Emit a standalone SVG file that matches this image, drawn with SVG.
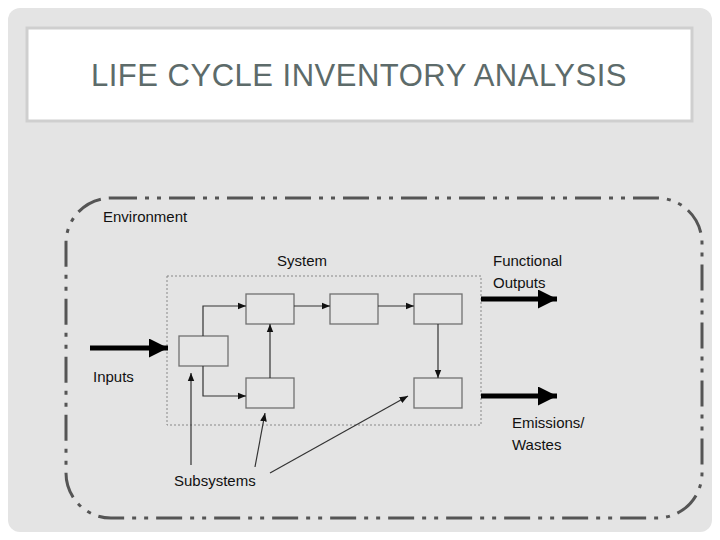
<svg xmlns="http://www.w3.org/2000/svg" width="720" height="540" viewBox="0 0 720 540">
<defs>
<marker id="a" viewBox="0 0 10 10" refX="10" refY="5" markerWidth="7" markerHeight="7" orient="auto"><path d="M0,1 L10,5 L0,9z" fill="#111"/></marker>
<marker id="b" viewBox="0 0 10 10" refX="10" refY="5" markerWidth="3.8" markerHeight="3.8" orient="auto"><path d="M0,0 L10,5 L0,10z" fill="#000"/></marker>
<style>
.bx{fill:#e5e5e5;stroke:#707070;stroke-width:1.3}
.ln{stroke:#333;stroke-width:1.2;fill:none;marker-end:url(#a)}
.t{font-family:"Liberation Sans",Arial,sans-serif;font-size:15px;fill:#111}
.big{stroke:#000;stroke-width:5;marker-end:url(#b)}
</style>
</defs>
<rect x="0" y="0" width="720" height="540" fill="#fff"/>
<rect x="8" y="8" width="704" height="524" rx="12" fill="#e4e4e4"/>
<rect x="27" y="28" width="665" height="93" fill="#fff" stroke="#cfcfcf" stroke-width="3"/>
<text x="359" y="86" text-anchor="middle" font-family="Liberation Sans,Arial,sans-serif" font-size="31" fill="#5d6b6a" letter-spacing="0.5">LIFE CYCLE INVENTORY ANALYSIS</text>
<rect x="66" y="198" width="636" height="320" rx="45" fill="none" stroke="#555" stroke-width="3" stroke-dasharray="26,8,4,8,4,8"/>
<text class="t" x="103" y="222">Environment</text>
<rect x="167" y="276" width="314" height="149" fill="none" stroke="#888" stroke-width="1" stroke-dasharray="2,2"/>
<text class="t" x="277" y="266">System</text>
<g id="n1"><rect class="bx" x="179" y="336" width="49" height="30"/></g>
<g id="n2"><rect class="bx" x="246" y="294" width="48" height="30"/></g>
<g id="n3"><rect class="bx" x="330" y="294" width="48" height="30"/></g>
<g id="n4"><rect class="bx" x="414" y="294" width="48" height="30"/></g>
<g id="n5"><rect class="bx" x="246" y="378" width="48" height="30"/></g>
<g id="n6"><rect class="bx" x="414" y="378" width="48" height="30"/></g>
<g id="connectors">
<path class="ln" d="M203,336 V306 H246"/>
<path class="ln" d="M203,366 V396 H246"/>
<path class="ln" d="M270,378 V324"/>
<path class="ln" d="M294,306 H330"/>
<path class="ln" d="M378,306 H414"/>
<path class="ln" d="M438,324 V378"/>
<line class="big" x1="90" y1="348" x2="168" y2="348"/>
<line class="big" x1="481" y1="299" x2="557" y2="299"/>
<line class="big" x1="481" y1="396" x2="557" y2="396"/>
<path class="ln" d="M191,465 V373"/>
<path class="ln" d="M255,467 L265,413"/>
<path class="ln" d="M270,473 L408,396"/>
</g>
<text class="t" x="93" y="382">Inputs</text>
<text class="t" x="493" y="266">Functional</text>
<text class="t" x="493" y="288">Outputs</text>
<text class="t" x="512" y="428">Emissions/</text>
<text class="t" x="512" y="450">Wastes</text>
<text class="t" x="174" y="486">Subsystems</text>
</svg>
